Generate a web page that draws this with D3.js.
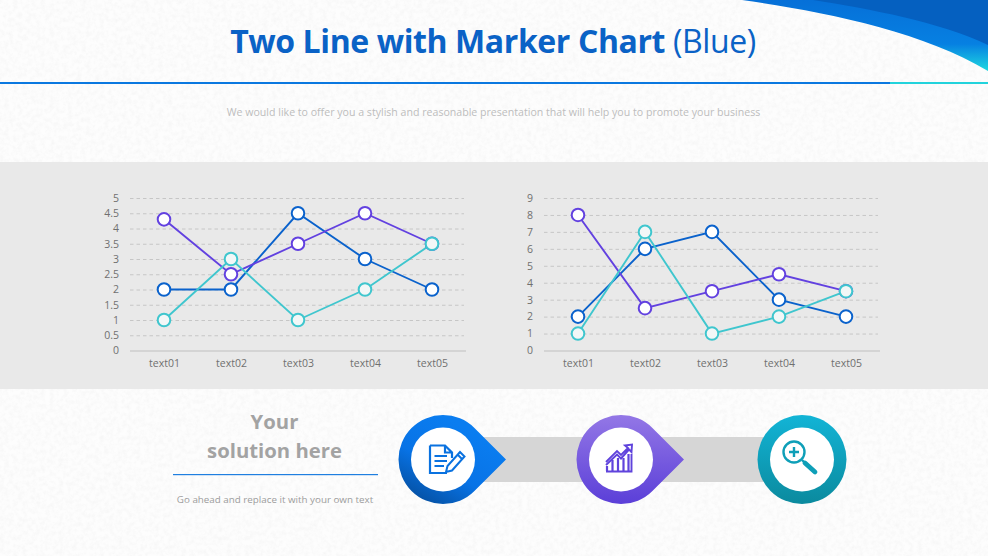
<!DOCTYPE html>
<html><head><meta charset="utf-8">
<script src="https://cdn.jsdelivr.net/npm/d3@7"></script>
<style>
html,body{margin:0;padding:0;background:#fbfbfb;overflow:hidden}
svg{display:block}
text{font-family:"Open Sans",sans-serif}
.tick text{font-family:"Open Sans",sans-serif}
</style></head><body>
<svg id="c" width="988" height="556"></svg>
<script>
const categories = ["text01","text02","text03","text04","text05"];
const leftTicks = [0,0.5,1,1.5,2,2.5,3,3.5,4,4.5,5];
const rightTicks = [0,1,2,3,4,5,6,7,8,9];
const leftBlue = [2,2,4.5,3,2];
const leftPurple = [4.3,2.5,3.5,4.5,3.5];
const leftTeal = [1,3,1,2,3.5];
const rightBlue = [2,6,7,3,2];
const rightPurple = [8,2.5,3.5,4.5,3.5];
const rightTeal = [1,7,1,2,3.5];
const BLUE="#0a62cc", PURPLE="#6241e0", TEAL="#3fc6ce";

const svg = d3.select("#c");
const defs = svg.append("defs");
const f = defs.append("filter").attr("id","paper").attr("x",0).attr("y",0).attr("width","100%").attr("height","100%");
f.append("feTurbulence").attr("type","fractalNoise").attr("baseFrequency",0.22).attr("numOctaves",3).attr("seed",4);
f.append("feColorMatrix").attr("type","matrix").attr("values","0 0 0 0 0.45  0 0 0 0 0.45  0 0 0 0 0.45  0.55 0 0 0 -0.2");
function grad(id,stops,x1=0,y1=0,x2=0,y2=1){
  const g=defs.append("linearGradient").attr("id",id).attr("x1",x1).attr("y1",y1).attr("x2",x2).attr("y2",y2);
  stops.forEach(([o,c])=>g.append("stop").attr("offset",o).attr("stop-color",c));
}
grad("gBlue",[[0,"#0a7df0"],[0.55,"#0873e6"],[1,"#0552a6"]],0.7,0.2,0.2,0.95);
grad("gPurple",[[0,"#9377e6"],[1,"#5b3fd8"]]);
grad("gTeal",[[0,"#12b4d6"],[1,"#0b8a9e"]]);
grad("gCorner",[[0,"#0670d8"],[0.62,"#0680e2"],[1,"#1fd8e0"]],0,0,0,1);

svg.append("rect").attr("width",988).attr("height",556).attr("fill","#fdfdfd");
svg.append("rect").attr("width",988).attr("height",556).attr("filter","url(#paper)").attr("opacity",0.3);

// top-right swoosh
svg.append("path").attr("d","M742,0 C820,11 920,30 988,71 L988,0 Z").attr("fill","url(#gCorner)");
svg.append("path").attr("d","M813,0 C870,9 940,22 988,45 L988,0 Z").attr("fill","#0560c0");

// title
const title = svg.append("text").attr("x",493).attr("y",53).attr("text-anchor","middle")
  .attr("font-size",32).attr("letter-spacing",-0.4).attr("fill","#0a62c6");
title.append("tspan").attr("font-weight",700).text("Two Line with Marker Chart ");
title.append("tspan").attr("font-weight",400).text("(Blue)");
svg.append("rect").attr("x",0).attr("y",82).attr("width",890).attr("height",2).attr("fill","#0a78e0");
svg.append("rect").attr("x",890).attr("y",82).attr("width",98).attr("height",2).attr("fill","#22d3dc");
svg.append("text").attr("x",493.5).attr("y",115.5).attr("text-anchor","middle").attr("font-size",10.6)
  .attr("fill","#bdbdbd").text("We would like to offer you a stylish and reasonable presentation that will help you to promote your business");

// band
svg.append("rect").attr("x",0).attr("y",162).attr("width",988).attr("height",227).attr("fill","#e9e9e9");

function chart(xL,xR,ticks,max,series){
  const x=d3.scalePoint().domain(categories).range([xL+34,xR-32]).padding(0);
  const y=d3.scaleLinear().domain([0,max]).range([350.5,198]);
  const g=svg.append("g");
  const ya=g.append("g").attr("transform",`translate(${xL},0)`)
    .call(d3.axisLeft(y).tickValues(ticks).tickSize(0).tickPadding(11).tickFormat(d3.format("~g")));
  ya.select(".domain").remove();
  ya.selectAll("text").attr("font-size",10.5).attr("fill","#707070");
  ya.selectAll("line").attr("x2",d=>d===0?xR-xL+2:xR-xL).attr("stroke",d=>d===0?"#cdcdcd":"#c6c6c6")
    .attr("stroke-width",d=>d===0?1.5:1).attr("stroke-dasharray",d=>d===0?null:"3.5 3");
  const xa=g.append("g").attr("transform","translate(0,350.5)")
    .call(d3.axisBottom(x).tickSize(0).tickPadding(9));
  xa.select(".domain").remove();
  xa.selectAll("text").attr("font-size",10.5).attr("fill","#707070");
  const line=d3.line().x((d,i)=>x(categories[i])).y(d=>y(d));
  series.forEach(s=>g.append("path").attr("d",line(s.v)).attr("fill","none").attr("stroke",s.c).attr("stroke-width",1.9));
  const pts=[];
  series.forEach((s,o)=>s.v.forEach((v,i)=>pts.push({v,i,c:s.c,o})));
  // teal markers sit beneath the others, except in the last category
  const rank=p=>p.c===TEAL?(p.i===categories.length-1?9:-1):p.o;
  pts.sort((a,b)=>rank(a)-rank(b));
  g.selectAll("circle.m").data(pts).join("circle").attr("class","m")
    .attr("cx",p=>x(categories[p.i])).attr("cy",p=>y(p.v)).attr("r",6.3)
    .attr("fill",p=>p.c===TEAL?"#f2f7f7":"#fff").attr("stroke",p=>p.c).attr("stroke-width",2);
}
chart(130,464,leftTicks,5,[{v:leftBlue,c:BLUE},{v:leftPurple,c:PURPLE},{v:leftTeal,c:TEAL}]);
chart(544,878,rightTicks,9,[{v:rightBlue,c:BLUE},{v:rightPurple,c:PURPLE},{v:rightTeal,c:TEAL}]);

// lower-left text
[["Your",428.5],["solution here",458]].forEach(([t,yy])=>svg.append("text").attr("x",274.5).attr("y",yy)
  .attr("text-anchor","middle").attr("font-size",20.3).attr("font-weight",700).attr("fill","#a3a3a3").text(t));
svg.append("rect").attr("x",173).attr("y",474).attr("width",205).attr("height",1.2).attr("fill","#1f7fe0");
svg.append("text").attr("x",275).attr("y",503).attr("text-anchor","middle").attr("font-size",9.8)
  .attr("fill","#9c9c9c").text("Go ahead and replace it with your own text");

// flow
svg.append("rect").attr("x",480).attr("y",437).attr("width",300).attr("height",45).attr("fill","#d6d6d6");
function pin(cx,fill,pointed){
  const cy=459.5,R=44.5,tip=63;
  const a=Math.acos(R/tip);
  if(pointed){
    const px=cx+R*Math.cos(a),py=R*Math.sin(a);
    svg.append("path").attr("d",`M${cx+tip},${cy} L${px},${cy+py} A${R},${R} 0 1 1 ${px},${cy-py} Z`).attr("fill",fill);
  } else svg.append("circle").attr("cx",cx).attr("cy",cy).attr("r",R).attr("fill",fill);
  svg.append("circle").attr("cx",cx).attr("cy",cy).attr("r",32).attr("fill","#fff");
}
pin(443,"url(#gBlue)",true);
pin(621,"url(#gPurple)",true);
pin(802,"url(#gTeal)",false);

// icon: document + pencil
const i1=svg.append("g").attr("fill","none").attr("stroke","#0a72e0").attr("stroke-width",2.2);
i1.append("path").attr("d","M430,445.5 H445 L452,452.5 V458 M445,445.5 V452.5 H452 M447,473 H430 V445.5");
i1.append("path").attr("d","M434.5,456 H447 M434.5,461 H447 M434.5,466 H444").attr("stroke-width",2);
i1.append("path").attr("d","M446,472 L447.5,466 L460,452 L464.5,456.5 L452,470.5 Z M457.5,454.5 L462,459").attr("stroke-width",2);
// icon: chart with arrow
const i2=svg.append("g").attr("fill","none").attr("stroke","#5f43dc").attr("stroke-width",1.9);
i2.append("path").attr("d","M606,462 L617,451 L621,455 L628,448 L625,445.5 L632,444.5 L631.5,452 L629,449.5 L621,458.5 L617,454.5 L606,465");
i2.append("path").attr("d","M606,471.5 H631.5 V454");
i2.append("path").attr("d","M607,471 V466 M612.5,471 V460 M618,471 V458 M623.5,471 V458 M628.5,471 V454").attr("stroke-width",2.2);
// icon: magnifier
const i3=svg.append("g").attr("fill","none").attr("stroke","#0e9fb8");
i3.append("circle").attr("cx",794).attr("cy",452).attr("r",10.5).attr("stroke-width",2.4);
i3.append("path").attr("d","M789,452 H799 M794,447 V457").attr("stroke-width",2.4);
i3.append("path").attr("d","M802,460 L804,462").attr("stroke-width",2.4);
i3.append("path").attr("d","M805,463 L815,472").attr("stroke-width",4.8).attr("stroke-linecap","round");
</script>
</body></html>
